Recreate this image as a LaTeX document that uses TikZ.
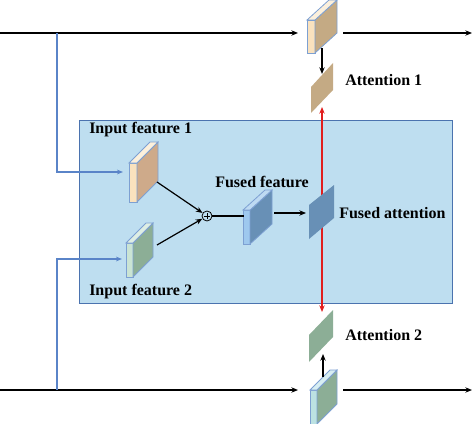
\documentclass[tikz,border=0pt]{standalone}
\usepackage{fontspec}
\setmainfont{Liberation Serif}
\usetikzlibrary{arrows.meta}
\definecolor{edgeblue}{RGB}{125,160,210}
\definecolor{boxfill}{RGB}{190,222,240}
\definecolor{boxline}{RGB}{75,115,175}
\definecolor{wireblue}{RGB}{90,132,200}
\definecolor{cream}{RGB}{250,226,190}
\definecolor{creamtop}{RGB}{252,240,220}
\definecolor{tan}{RGB}{196,170,132}
\definecolor{salmon}{RGB}{206,170,138}
\definecolor{mint}{RGB}{202,228,212}
\definecolor{minttop}{RGB}{222,238,228}
\definecolor{sage}{RGB}{140,174,150}
\definecolor{skyfront}{RGB}{158,200,238}
\definecolor{skytop}{RGB}{190,218,242}
\definecolor{steel}{RGB}{104,144,182}
\definecolor{aqua}{RGB}{188,226,226}
\definecolor{aquatop}{RGB}{215,238,242}
\definecolor{redline}{RGB}{225,30,30}

\begin{document}
\begin{tikzpicture}[x=0.75pt, y=-0.75pt,
  lbl/.style={anchor=west, inner sep=0pt, font=\bfseries\fontsize{12}{14}\selectfont},
  wire/.style={line width=0.9pt, -{Stealth[length=5pt,width=4pt]}},
  bluewire/.style={draw=wireblue, line width=0.95pt, -{Stealth[length=4.5pt,width=3.5pt]}},
  face/.style={draw=edgeblue, line width=0.6pt}]
\useasboundingbox (0,0) rectangle (474,424);
%Frame
\draw [boxline, fill=boxfill, line width=0.75pt] (79,121) rectangle (452,303);
%Ports
\coordinate (top src) at (0,33);
\coordinate (top in) at (298,33);
\coordinate (top out) at (343,33);
\coordinate (top end) at (472,33);
\coordinate (bot src) at (0,390);
\coordinate (bot in) at (298,390);
\coordinate (bot out) at (343,390);
\coordinate (bot end) at (472,390);
\coordinate (tap1) at (57,33);
\coordinate (tap2) at (57,390);
\coordinate (in1) at (123,172);
\coordinate (in2) at (122,259);
\coordinate (f1 out) at (157,182);
\coordinate (f2 out) at (157,245);
\coordinate (fused in) at (244,216);
\coordinate (fused out) at (274,213);
\coordinate (fatt in) at (306,213);
\coordinate (att1 top) at (322,48);
\coordinate (att1 in) at (322,74);
\coordinate (att1 bot) at (322,107);
\coordinate (att2 top) at (322,312);
\coordinate (att2 bot) at (323,377);
\coordinate (att2 in) at (323,354);
%Wires
\draw [wire] (top src) -- (top in);
\draw [wire] (top out) -- (top end);
\draw [wire] (bot src) -- (bot in);
\draw [wire] (bot out) -- (bot end);
\draw [bluewire] (tap1) |- (in1);
\draw [bluewire] (tap2) |- (in2);
\draw [redline, line width=0.9pt, {Stealth[length=5pt,width=4pt]}-{Stealth[length=5pt,width=4pt]}] (att1 bot) -- (att2 top);
%Blocks
\draw [shift={(307,20)}, face, fill=cream] (0,0) rectangle (8,33);
\draw [shift={(307,20)}, face, fill=tan] (8,0) -- (30,-20) -- (30,13) -- (8,33) -- cycle;
\draw [shift={(307,20)}, face, fill=creamtop] (0,0) -- (22,-20) -- (30,-20) -- (8,0) -- cycle;
\draw [shift={(129,163)}, face, fill=cream] (0,0) rectangle (8,39);
\draw [shift={(129,163)}, face, fill=salmon] (8,0) -- (29,-21) -- (29,18) -- (8,39) -- cycle;
\draw [shift={(129,163)}, face, fill=creamtop] (0,0) -- (21,-21) -- (29,-21) -- (8,0) -- cycle;
\draw [shift={(126,243)}, face, fill=mint] (0,0) rectangle (7,34);
\draw [shift={(126,243)}, face, fill=sage] (7,0) -- (27,-20) -- (27,14) -- (7,34) -- cycle;
\draw [shift={(126,243)}, face, fill=minttop] (0,0) -- (20,-20) -- (27,-20) -- (7,0) -- cycle;
\draw [wire] (fused out) -- (fatt in);
\draw [shift={(243,210)}, face, fill=skyfront] (0,0) rectangle (7,34);
\draw [shift={(243,210)}, face, fill=steel] (7,0) -- (29,-20) -- (29,14) -- (7,34) -- cycle;
\draw [shift={(243,210)}, face, fill=skytop] (0,0) -- (22,-20) -- (29,-20) -- (7,0) -- cycle;
\draw [shift={(310,390)}, face, fill=aqua] (0,0) rectangle (7,34);
\draw [shift={(310,390)}, face, fill=sage] (7,0) -- (27,-20) -- (27,14) -- (7,34) -- cycle;
\draw [shift={(310,390)}, face, fill=aquatop] (0,0) -- (20,-20) -- (27,-20) -- (7,0) -- cycle;
%Attention maps
\fill [tan] (311,87) -- (333,63) -- (333,90) -- (311,113) -- cycle;
\fill [steel] (309,205) -- (334,185) -- (334,218) -- (309,239) -- cycle;
\fill [sage] (309,335) -- (333,310) -- (333,337) -- (309,362) -- cycle;
%Fusion
\node [circle, draw, line width=0.6pt, inner sep=0pt, minimum size=7.5pt] (plus) at (207,216) {};
\draw [line width=0.5pt] ([xshift=-2.3pt]plus.center) -- ([xshift=2.3pt]plus.center) ([yshift=-2.3pt]plus.center) -- ([yshift=2.3pt]plus.center);
\draw [wire] (f1 out) -- (plus);
\draw [wire] (f2 out) -- (plus);
\draw [line width=0.9pt] (plus) -- (fused in);
\draw [wire] (att1 top) -- (att1 in);
\draw [wire] (att2 bot) -- (att2 in);
%Text
\node [lbl] (att1 lbl) at (345,80) {Attention 1};
\node [lbl] (in1 lbl) at (89,130) {Input feature 1};
\node [lbl] (fused lbl) at (215,182) {Fused feature};
\node [lbl] (fatt lbl) at (339,213) {Fused attention};
\node [lbl] (in2 lbl) at (89,292) {Input feature 2};
\node [lbl] (att2 lbl) at (345,335) {Attention 2};
\end{tikzpicture}
\end{document}
